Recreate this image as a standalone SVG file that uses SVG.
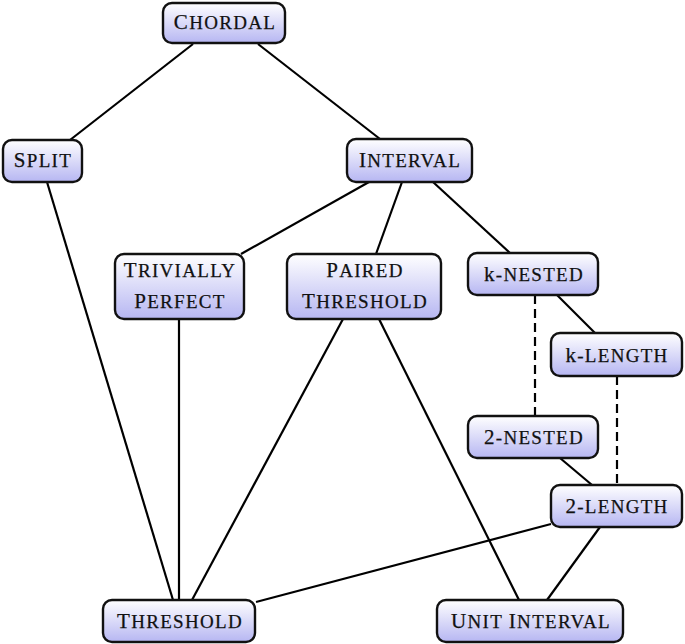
<svg xmlns="http://www.w3.org/2000/svg" width="685" height="644" viewBox="0 0 685 644">
<defs>
<linearGradient id="g" x1="0" y1="0" x2="0" y2="1">
<stop offset="0" stop-color="#ffffff"/>
<stop offset="1" stop-color="#b6b6f2"/>
</linearGradient>
<style>
.box{fill:url(#g);stroke:#111;stroke-width:2.4}
.lbl{font-family:"Liberation Serif","Times New Roman",serif;font-size:19px;letter-spacing:1.3px;fill:#111;stroke:#111;stroke-width:0.25;text-anchor:middle}
.cap{font-size:21px}
.e{stroke:#000;stroke-width:2.2;fill:none}
.d{stroke:#000;stroke-width:2.2;fill:none;stroke-dasharray:9 5}
</style>
</defs>
<rect width="685" height="644" fill="#fff"/>
<g id="connectors">
<line class="e" x1="193" y1="44" x2="70" y2="140"/>
<line class="e" x1="258" y1="44" x2="380" y2="139"/>
<line class="e" x1="369" y1="182" x2="241" y2="254"/>
<line class="e" x1="402" y1="182" x2="376" y2="254"/>
<line class="e" x1="433" y1="182" x2="510" y2="253"/>
<line class="e" x1="557" y1="295" x2="595" y2="333"/>
<line class="d" x1="535" y1="295" x2="535" y2="416"/>
<line class="d" x1="617" y1="376" x2="617" y2="485"/>
<line class="e" x1="560" y1="458" x2="592" y2="485"/>
<line class="e" x1="551" y1="524" x2="256" y2="602"/>
<line class="e" x1="600" y1="527" x2="547" y2="600"/>
<line class="e" x1="47" y1="182" x2="173" y2="600"/>
<line class="e" x1="179" y1="319" x2="179" y2="600"/>
<line class="e" x1="343" y1="319" x2="192" y2="600"/>
<line class="e" x1="379" y1="319" x2="519" y2="600"/>
</g>
<g id="chordal">
<rect class="box" x="163" y="3" width="122" height="40" rx="9"/>
<text class="lbl" x="225" y="29"><tspan class="cap">C</tspan>HORDAL</text>
</g>
<g id="split">
<rect class="box" x="3" y="140" width="79" height="42" rx="9"/>
<text class="lbl" x="43" y="167"><tspan class="cap">S</tspan>PLIT</text>
</g>
<g id="interval">
<rect class="box" x="347" y="139" width="125" height="43" rx="9"/>
<text class="lbl" x="410" y="167"><tspan class="cap">I</tspan>NTERVAL</text>
</g>
<g id="trivially-perfect">
<rect class="box" x="115" y="254" width="129" height="65" rx="9"/>
<text class="lbl" x="180" y="277"><tspan class="cap">T</tspan>RIVIALLY</text>
<text class="lbl" x="180" y="308"><tspan class="cap">P</tspan>ERFECT</text>
</g>
<g id="paired-threshold">
<rect class="box" x="287" y="254" width="154" height="65" rx="9"/>
<text class="lbl" x="365" y="277"><tspan class="cap">P</tspan>AIRED</text>
<text class="lbl" x="365" y="308"><tspan class="cap">T</tspan>HRESHOLD</text>
</g>
<g id="k-nested">
<rect class="box" x="468" y="253" width="130" height="42" rx="9"/>
<text class="lbl" x="534" y="281"><tspan class="cap">k</tspan>-NESTED</text>
</g>
<g id="k-length">
<rect class="box" x="551" y="333" width="131" height="43" rx="9"/>
<text class="lbl" x="617" y="362"><tspan class="cap">k</tspan>-LENGTH</text>
</g>
<g id="two-nested">
<rect class="box" x="468" y="416" width="130" height="42" rx="9"/>
<text class="lbl" x="534" y="444"><tspan class="cap">2</tspan>-NESTED</text>
</g>
<g id="two-length">
<rect class="box" x="551" y="485" width="131" height="42" rx="9"/>
<text class="lbl" x="617" y="513"><tspan class="cap">2</tspan>-LENGTH</text>
</g>
<g id="threshold">
<rect class="box" x="103" y="600" width="152" height="42" rx="9"/>
<text class="lbl" x="180" y="628"><tspan class="cap">T</tspan>HRESHOLD</text>
</g>
<g id="unit-interval">
<rect class="box" x="437" y="600" width="186" height="42" rx="9"/>
<text class="lbl" x="531" y="628"><tspan class="cap">U</tspan>NIT <tspan class="cap">I</tspan>NTERVAL</text>
</g>
</svg>
